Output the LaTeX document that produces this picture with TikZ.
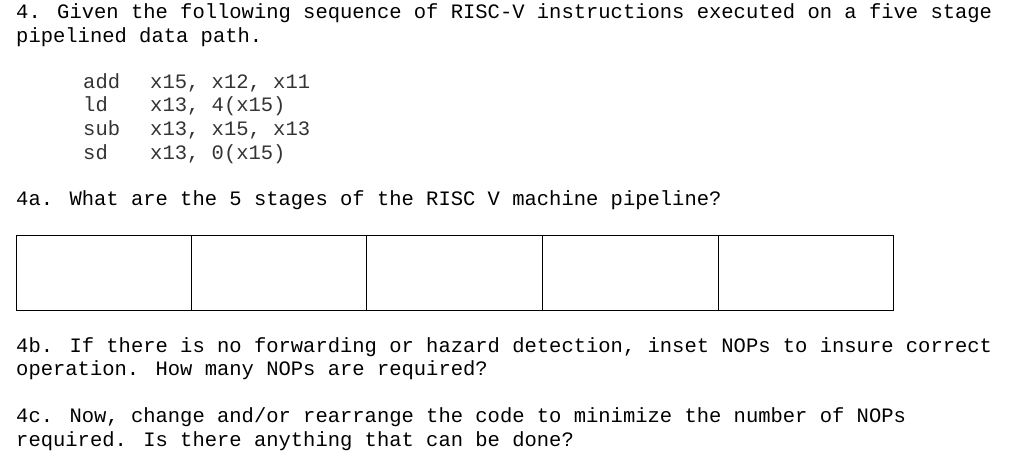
\documentclass[tikz,border=0pt]{standalone}
\usepackage{fontspec}
\setmainfont{Liberation Mono}
\begin{document}
\begin{tikzpicture}[x=1pt,y=-1pt,
  txt/.style={anchor=base west,inner sep=0pt,font=\fontsize{20.5}{23}\selectfont},
  ins/.style={txt,text=black!80},
  cell/.style={draw,line width=0.8pt}]
\useasboundingbox (0,0) rectangle (1024,458);
\node[txt] (l1) at (16,18) {4. Given the following sequence of RISC-V instructions executed on a five stage};
\node[txt] (l2) at (16,42) {pipelined data path.};
\node[ins] (o1) at (83,88) {add};
\node[ins] (a1) at (150,88) {x15, x12, x11};
\node[ins] (o2) at (83,111) {ld};
\node[ins] (a2) at (150,111) {x13, 4(x15)};
\node[ins] (o3) at (83,135) {sub};
\node[ins] (a3) at (150,135) {x13, x15, x13};
\node[ins] (o4) at (83,159) {sd};
\node[ins] (a4) at (150,159) {x13, 0(x15)};
\node[txt] (q4a) at (16,205) {4a. What are the 5 stages of the RISC V machine pipeline?};
\foreach \a/\b [count=\i] in {16/191,191/366,366/542,542/718,718/893}
  \draw[cell] (\a,235) rectangle (\b,310);
\node[txt] (q4b1) at (16,352) {4b. If there is no forwarding or hazard detection, inset NOPs to insure correct};
\node[txt] (q4b2) at (16,375) {operation. How many NOPs are required?};
\node[txt] (q4c1) at (16,422) {4c. Now, change and/or rearrange the code to minimize the number of NOPs};
\node[txt] (q4c2) at (16,446) {required. Is there anything that can be done?};
\end{tikzpicture}
\end{document}
